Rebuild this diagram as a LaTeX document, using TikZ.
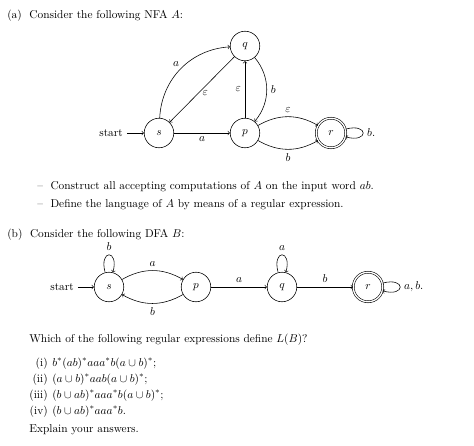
\documentclass[tikz,border=0pt]{standalone}
\begin{document}
\begin{tikzpicture}[x=0.88pt,y=-0.88pt,line width=0.5pt,
  state/.style={draw,circle,minimum size=26pt,inner sep=0pt},
  final/.style={state,double,double distance=1.2pt},
  txt/.style={anchor=base west,inner sep=0pt}]
\useasboundingbox (0,0) rectangle (474,445);
% part (a)
\node[txt] (parta) at (7,18) {(a)\ \ Consider the following NFA $A$:};
\node[state] (s) at (159,133) {$s$};
\node[state] (q) at (245,46) {$q$};
\node[state] (p) at (245,133) {$p$};
\node[final] (r) at (331,133) {$r$};
\node (starta) at (111,133) {start};
\draw[->] (starta) -- (s);
\draw[->] (s) to[bend left=42] node[above left=-2pt] {$a$} (q);
\draw[->] (q) -- node[pos=0.5,below right=-3pt] {$\varepsilon$} (s);
\draw[->] (s) -- node[below] {$a$} (p);
\draw[->] (p) -- node[left] {$\varepsilon$} (q);
\draw[->] (q) to[bend left=40] node[right] {$b$} (p);
\draw[->] (p) to[bend left=30] node[above] {$\varepsilon$} (r);
\draw[->] (p) to[bend right=30] node[below] {$b$} (r);
\draw[->] (r) to[loop right] node[right] {$b.$} (r);
\node[txt] (taska) at (37,189) {--\ \ Construct all accepting computations of $A$ on the input word $ab$.};
\node[txt] (taskb) at (37,207) {--\ \ Define the language of $A$ by means of a regular expression.};
% part (b)
\node[txt] (partb) at (7,237) {(b)\ \ Consider the following DFA $B$:};
\node[state] (s2) at (109,287) {$s$};
\node[state] (p2) at (196,287) {$p$};
\node[state] (q2) at (282,287) {$q$};
\node[final] (r2) at (368,287) {$r$};
\node (startb) at (62,287) {start};
\draw[->] (startb) -- (s2);
\draw[->] (s2) to[loop above] node[above] {$b$} (s2);
\draw[->] (s2) to[bend left=30] node[above] {$a$} (p2);
\draw[->] (p2) to[bend left=30] node[below] {$b$} (s2);
\draw[->] (p2) -- node[above] {$a$} (q2);
\draw[->] (q2) to[loop above] node[above] {$a$} (q2);
\draw[->] (q2) -- node[above] {$b$} (r2);
\draw[->] (r2) to[loop right] node[right] {$a,b.$} (r2);
\node[txt] (ask) at (29,342) {Which of the following regular expressions define $L(B)$?};
\foreach \lbl/\expr [count=\i] in {(i)/{$b^*(ab)^*aaa^*b(a\cup b)^*$;},
    (ii)/{$(a\cup b)^*aab(a\cup b)^*$;},
    (iii)/{$(b\cup ab)^*aaa^*b(a\cup b)^*$;},
    (iv)/{$(b\cup ab)^*aaa^*b$.}}{
  \node[anchor=base east,inner sep=0pt] (lbl\i) at (48,350+16*\i) {\lbl};
  \node[txt] (expr\i) at (52,350+16*\i) {\expr};
}
\node[txt] (explain) at (29,432) {Explain your answers.};
\end{tikzpicture}
\end{document}
